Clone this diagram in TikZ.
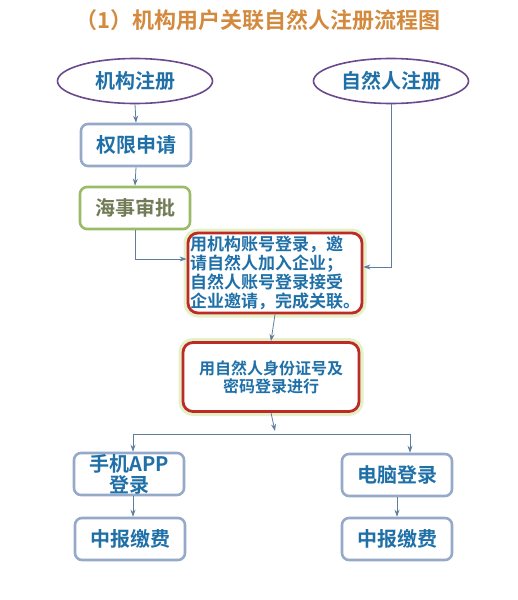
\documentclass[tikz,border=0pt]{standalone}
\usepackage{fontspec}
\setmainfont{Noto Sans CJK SC}
\newfontfamily\cjkb{Noto Sans CJK SC Bold}
\usetikzlibrary{shapes.geometric,arrows.meta,positioning,calc}
\definecolor{ttl}{HTML}{D38A3E}
\definecolor{txt}{HTML}{2070A8}
\definecolor{ptxt}{HTML}{717B55}
\definecolor{purp}{HTML}{6A4A8C}
\definecolor{bord}{HTML}{95A9C9}
\definecolor{grn}{HTML}{9BBB68}
\definecolor{rd}{HTML}{BE2A26}
\definecolor{glow}{HTML}{E4F0C8}
\definecolor{arr}{HTML}{5F7E9E}
\tikzset{
  reg/.style={ellipse,draw=purp,line width=1.6pt,minimum width=155,minimum height=45,
    text=txt,font=\cjkb\fontsize{20}{22}\selectfont},
  box/.style={rectangle,rounded corners=7pt,draw=bord,line width=2.6pt,fill=white,
    minimum width=110,minimum height=42,text=txt,font=\cjkb\fontsize{20}{21}\selectfont,
    align=center,inner sep=1pt},
  redbox/.style={rectangle,rounded corners=10pt,draw=rd,line width=2.8pt,fill=white,
    preaction={draw=glow,line width=9pt},text=txt,inner sep=2pt},
  link/.style={draw=arr,line width=0.8pt,-{Stealth[length=7pt,width=5pt]}},
  line/.style={draw=arr,line width=0.8pt}
}
\begin{document}
\begin{tikzpicture}[x=1pt,y=-1pt]
\useasboundingbox (0,0) rectangle (518,600);
\node[text=ttl,font=\cjkb\fontsize{22}{24}\selectfont] (t) at (258,20) {（1）机构用户关联自然人注册流程图};
%
\node[reg] (r1) at (135,81) {机构注册};
\node[reg] (r2) at (391,81) {自然人注册};
\node[box] (a) at (136,145) {权限申请};
\node[box,draw=grn,text=ptxt] (b) at (135,208) {海事审批};
\node[redbox,minimum width=173,minimum height=80,align=left,
  font=\cjkb\fontsize{17}{19}\selectfont] (c) at (275,273)
  {用机构账号登录，邀\\请自然人加入企业；\\自然人账号登录接受\\企业邀请，完成关联。};
\node[redbox,minimum width=176,minimum height=69,align=center,
  font=\cjkb\fontsize{16}{18}\selectfont] (d) at (271,377)
  {用自然人身份证号及\\密码登录进行};
\node[box] (e) at (129,474) {手机APP\\登录};
\node[box] (f) at (397,475) {电脑登录};
\node[box] (g) at (130,539) {中报缴费};
\node[box] (h) at (397,539) {中报缴费};
%
\coordinate (s) at (275,434);
\coordinate (sl) at (133,434);
\coordinate (sr) at (410,434);
\draw[link] (r1.south) -- (a.north);
\draw[link] (a.south) -- (b.north);
\draw[link] (b.south) |- ($(c.west)+(0,-14)$);
\draw[link] (r2.south) |- ($(c.east)+(0,-6)$);
\draw[link] (c.south) -- (d.north);
\draw[link] (d.south) -- ($(s)+(0,-3)$);
\draw[line] (sl) -- (sr);
\draw[link] (sl) -- (sl |- e.north);
\draw[link] (sr) -- (sr |- f.north);
\draw[link] (e.south -| sl) -- (g.north -| sl);
\draw[link] (f.south) -- (h.north);
\end{tikzpicture}
\end{document}
